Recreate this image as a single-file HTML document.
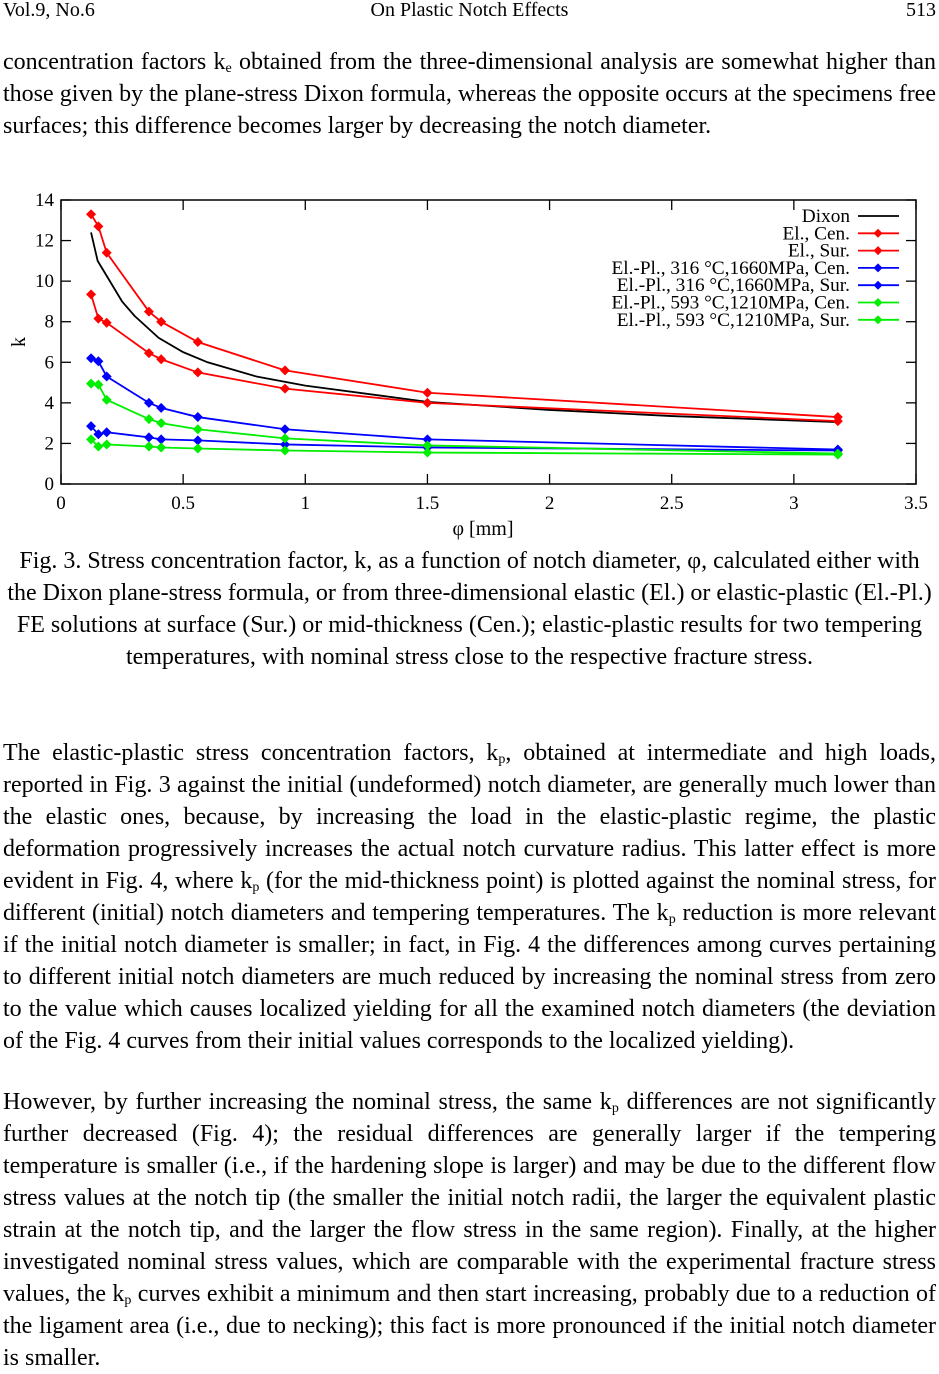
<!DOCTYPE html>
<html><head><meta charset="utf-8">
<style>
body{margin:0;width:939px;height:1364px;background:#fff;overflow:hidden;position:relative;font-family:"Liberation Serif",serif;color:#000}
.hdr{position:absolute;top:-2px;font-size:20px;line-height:24px}
.ln{position:absolute;left:3px;width:933px;font-size:24px;line-height:32px;height:32px;white-space:nowrap;text-align:justify;text-align-last:justify}
.ln.l{text-align-last:left}
.cap{position:absolute;left:0;width:939px;text-align:center;font-size:24px;line-height:32px;white-space:nowrap}
sub{font-size:14px;vertical-align:-3px;line-height:0}
</style></head><body>
<div class="hdr" style="left:3px">Vol.9, No.6</div>
<div class="hdr" style="left:0;width:939px;text-align:center">On Plastic Notch Effects</div>
<div class="hdr" style="right:3px">513</div>

<div>
<div class="ln" style="top:46px">concentration factors k<sub>e</sub> obtained from the three-dimensional analysis are somewhat higher than</div>
<div class="ln" style="top:78px">those given by the plane-stress Dixon formula, whereas the opposite occurs at the specimens free</div>
<div class="ln l" style="top:110px">surfaces; this difference becomes larger by decreasing the notch diameter.</div>
</div>

<svg id="chart" style="position:absolute;left:0;top:0" width="939" height="545" font-family="Liberation Serif, serif"></svg>

<div>
<div class="cap" style="top:545px">Fig. 3. Stress concentration factor, k, as a function of notch diameter, φ, calculated either with</div>
<div class="cap" style="top:577px">the Dixon plane-stress formula, or from three-dimensional elastic (El.) or elastic-plastic (El.-Pl.)</div>
<div class="cap" style="top:609px">FE solutions at surface (Sur.) or mid-thickness (Cen.); elastic-plastic results for two tempering</div>
<div class="cap" style="top:641px">temperatures, with nominal stress close to the respective fracture stress.</div>
</div>

<div>
<div class="ln" style="top:737px">The elastic-plastic stress concentration factors, k<sub>p</sub>, obtained at intermediate and high loads,</div>
<div class="ln" style="top:769px">reported in Fig. 3 against the initial (undeformed) notch diameter, are generally much lower than</div>
<div class="ln" style="top:801px">the elastic ones, because, by increasing the load in the elastic-plastic regime, the plastic</div>
<div class="ln" style="top:833px">deformation progressively increases the actual notch curvature radius. This latter effect is more</div>
<div class="ln" style="top:865px">evident in Fig. 4, where k<sub>p</sub> (for the mid-thickness point) is plotted against the nominal stress, for</div>
<div class="ln" style="top:897px">different (initial) notch diameters and tempering temperatures. The k<sub>p</sub> reduction is more relevant</div>
<div class="ln" style="top:929px">if the initial notch diameter is smaller; in fact, in Fig. 4 the differences among curves pertaining</div>
<div class="ln" style="top:961px">to different initial notch diameters are much reduced by increasing the nominal stress from zero</div>
<div class="ln" style="top:993px">to the value which causes localized yielding for all the examined notch diameters (the deviation</div>
<div class="ln l" style="top:1025px">of the Fig. 4 curves from their initial values corresponds to the localized yielding).</div>
</div>

<div>
<div class="ln" style="top:1086px">However, by further increasing the nominal stress, the same k<sub>p</sub> differences are not significantly</div>
<div class="ln" style="top:1118px">further decreased (Fig. 4); the residual differences are generally larger if the tempering</div>
<div class="ln" style="top:1150px">temperature is smaller (i.e., if the hardening slope is larger) and may be due to the different flow</div>
<div class="ln" style="top:1182px">stress values at the notch tip (the smaller the initial notch radii, the larger the equivalent plastic</div>
<div class="ln" style="top:1214px">strain at the notch tip, and the larger the flow stress in the same region). Finally, at the higher</div>
<div class="ln" style="top:1246px">investigated nominal stress values, which are comparable with the experimental fracture stress</div>
<div class="ln" style="top:1278px">values, the k<sub>p</sub> curves exhibit a minimum and then start increasing, probably due to a reduction of</div>
<div class="ln" style="top:1310px">the ligament area (i.e., due to necking); this fact is more pronounced if the initial notch diameter</div>
<div class="ln l" style="top:1342px">is smaller.</div>
</div>

<script>
const xs = [0.123,0.153,0.187,0.36,0.41,0.56,0.917,1.5,3.18];
const elCen = [13.3,12.7,11.4,8.5,8.0,7.0,5.6,4.5,3.3];
const elSur = [9.35,8.15,7.95,6.45,6.15,5.5,4.7,4.0,3.1];
const ep316Cen = [6.2,6.05,5.3,4.0,3.75,3.3,2.7,2.2,1.7];
const ep316Sur = [2.85,2.45,2.55,2.3,2.2,2.15,1.95,1.8,1.65];
const ep593Cen = [4.95,4.9,4.15,3.2,3.0,2.7,2.25,1.9,1.5];
const ep593Sur = [2.2,1.85,1.95,1.85,1.8,1.75,1.65,1.55,1.45];
const dixonX = [0.123,0.15,0.2,0.25,0.3,0.4,0.5,0.6,0.8,1.0,1.5,2.0,2.5,3.18];
const dixonY = [12.4,11.0,10.0,9.0,8.3,7.2,6.5,6.0,5.3,4.85,4.05,3.65,3.35,3.05];
const xTicks = [0,0.5,1,1.5,2,2.5,3,3.5];
const xTickLabels = ["0","0.5","1","1.5","2","2.5","3","3.5"];
const yTicks = [0,2,4,6,8,10,12,14];
const legendLabels = ["Dixon","El., Cen.","El., Sur.","El.-Pl., 316 °C,1660MPa, Cen.","El.-Pl., 316 °C,1660MPa, Sur.","El.-Pl., 593 °C,1210MPa, Cen.","El.-Pl., 593 °C,1210MPa, Sur."];

const L=61,R=916,T=200,B=484;
const sx=v=>L+(v/3.5)*(R-L);
const sy=v=>B-(v/14)*(B-T);
const svg=document.getElementById('chart');
const NS='http://www.w3.org/2000/svg';
function mk(tag,attrs,parent){const e=document.createElementNS(NS,tag);for(const k in attrs)e.setAttribute(k,attrs[k]);(parent||svg).appendChild(e);return e;}

const frame=mk('rect',{x:L,y:T,width:R-L,height:B-T,fill:'none',stroke:'#000','stroke-width':1.5});



xTicks.forEach((t,i)=>{
  mk('line',{x1:sx(t),x2:sx(t),y1:B,y2:B-10,stroke:'#000','stroke-width':1.3});
  mk('line',{x1:sx(t),x2:sx(t),y1:T,y2:T+10,stroke:'#000','stroke-width':1.3});
  const tx=mk('text',{x:sx(t),y:B+25,'text-anchor':'middle','font-size':19});
  tx.textContent=xTickLabels[i];
  
  
});
yTicks.forEach(t=>{
  mk('line',{x1:L,x2:L+10,y1:sy(t),y2:sy(t),stroke:'#000','stroke-width':1.3});
  mk('line',{x1:R,x2:R-10,y1:sy(t),y2:sy(t),stroke:'#000','stroke-width':1.3});
  const tx=mk('text',{x:L-7,y:sy(t)+6,'text-anchor':'end','font-size':19});
  tx.textContent=String(t);
  
  
});
const xt=mk('text',{x:483,y:535,'text-anchor':'middle','font-size':20});
xt.textContent='φ [mm]';


const yt=mk('text',{x:19,y:348,'text-anchor':'middle','font-size':20,transform:'rotate(-90 19 342)'});
yt.textContent='k';



function diamond(g,x,y,c,r){mk('path',{d:`M${x} ${y-r}L${x+r} ${y}L${x} ${y+r}L${x-r} ${y}Z`,fill:c},g);}

const dix=mk('polyline',{points:dixonX.map((v,i)=>sx(v)+','+sy(dixonY[i])).join(' '),fill:'none',stroke:'#000','stroke-width':1.8});



const series=[[elCen,'#f00','series-el-cen'],[elSur,'#f00','series-el-sur'],[ep316Cen,'#00f','series-316-cen'],[ep316Sur,'#00f','series-316-sur'],[ep593Cen,'#0e0','series-593-cen'],[ep593Sur,'#0e0','series-593-sur']];
series.forEach(([ys,c,n])=>{
  const g=mk('g',{});
  
  
  mk('polyline',{points:xs.map((v,i)=>sx(v)+','+sy(ys[i])).join(' '),fill:'none',stroke:c,'stroke-width':1.8},g);
  xs.forEach((v,i)=>diamond(g,sx(v),sy(ys[i]),c,5));
});

const colors=['#000','#f00','#f00','#00f','#00f','#0e0','#0e0'];
const lg=mk('g',{});


legendLabels.forEach((lab,i)=>{
  const y=216+i*17.3;
  const t=mk('text',{x:850,y:y+6,'text-anchor':'end','font-size':19.3},lg);
  t.textContent=lab;
  
  
  mk('line',{x1:858,x2:899,y1:y,y2:y,stroke:colors[i],'stroke-width':1.8},lg);
  if(i>0) diamond(lg,878,y,colors[i],4.5);
});
</script>
</body></html>
